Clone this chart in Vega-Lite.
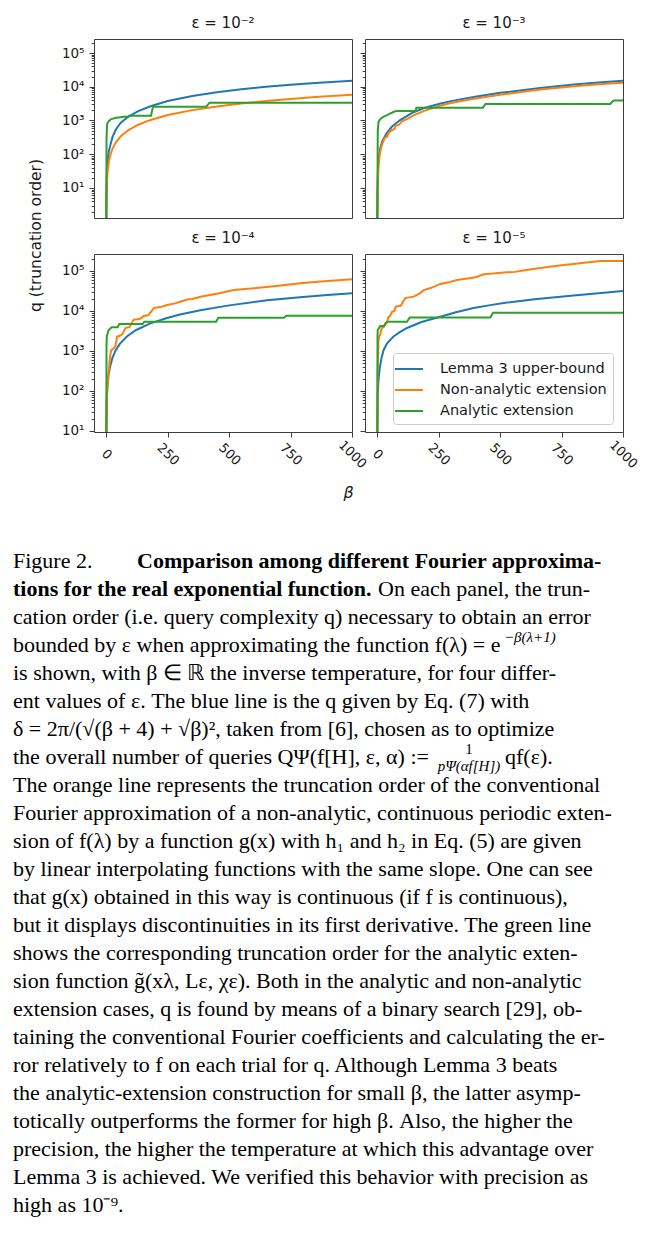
{
  "$schema": "https://vega.github.io/schema/vega-lite/v6.json",
  "background": "white",
  "padding": {"left": 13, "top": 15, "right": 4, "bottom": 4},
  "datasets": {
    "curves": [
      {"eps": "1e-2", "series": "Lemma 3 upper-bound", "beta": 0, "q": 1},
      {"eps": "1e-2", "series": "Lemma 3 upper-bound", "beta": 1, "q": 8},
      {"eps": "1e-2", "series": "Lemma 3 upper-bound", "beta": 3, "q": 35},
      {"eps": "1e-2", "series": "Lemma 3 upper-bound", "beta": 6, "q": 75},
      {"eps": "1e-2", "series": "Lemma 3 upper-bound", "beta": 10, "q": 120},
      {"eps": "1e-2", "series": "Lemma 3 upper-bound", "beta": 16, "q": 180},
      {"eps": "1e-2", "series": "Lemma 3 upper-bound", "beta": 25, "q": 320},
      {"eps": "1e-2", "series": "Lemma 3 upper-bound", "beta": 40, "q": 560},
      {"eps": "1e-2", "series": "Lemma 3 upper-bound", "beta": 60, "q": 880},
      {"eps": "1e-2", "series": "Lemma 3 upper-bound", "beta": 90, "q": 1300},
      {"eps": "1e-2", "series": "Lemma 3 upper-bound", "beta": 130, "q": 1900},
      {"eps": "1e-2", "series": "Lemma 3 upper-bound", "beta": 180, "q": 2650},
      {"eps": "1e-2", "series": "Lemma 3 upper-bound", "beta": 250, "q": 3800},
      {"eps": "1e-2", "series": "Lemma 3 upper-bound", "beta": 350, "q": 5300},
      {"eps": "1e-2", "series": "Lemma 3 upper-bound", "beta": 450, "q": 6900},
      {"eps": "1e-2", "series": "Lemma 3 upper-bound", "beta": 550, "q": 8400},
      {"eps": "1e-2", "series": "Lemma 3 upper-bound", "beta": 650, "q": 10000},
      {"eps": "1e-2", "series": "Lemma 3 upper-bound", "beta": 750, "q": 11500},
      {"eps": "1e-2", "series": "Lemma 3 upper-bound", "beta": 850, "q": 13000},
      {"eps": "1e-2", "series": "Lemma 3 upper-bound", "beta": 1000, "q": 15000},
      {"eps": "1e-2", "series": "Non-analytic extension", "beta": 0, "q": 1},
      {"eps": "1e-2", "series": "Non-analytic extension", "beta": 2, "q": 12},
      {"eps": "1e-2", "series": "Non-analytic extension", "beta": 5, "q": 30},
      {"eps": "1e-2", "series": "Non-analytic extension", "beta": 10, "q": 58},
      {"eps": "1e-2", "series": "Non-analytic extension", "beta": 16, "q": 93},
      {"eps": "1e-2", "series": "Non-analytic extension", "beta": 25, "q": 145},
      {"eps": "1e-2", "series": "Non-analytic extension", "beta": 40, "q": 230},
      {"eps": "1e-2", "series": "Non-analytic extension", "beta": 60, "q": 350},
      {"eps": "1e-2", "series": "Non-analytic extension", "beta": 90, "q": 520},
      {"eps": "1e-2", "series": "Non-analytic extension", "beta": 130, "q": 750},
      {"eps": "1e-2", "series": "Non-analytic extension", "beta": 180, "q": 1040},
      {"eps": "1e-2", "series": "Non-analytic extension", "beta": 250, "q": 1450},
      {"eps": "1e-2", "series": "Non-analytic extension", "beta": 350, "q": 2030},
      {"eps": "1e-2", "series": "Non-analytic extension", "beta": 450, "q": 2600},
      {"eps": "1e-2", "series": "Non-analytic extension", "beta": 550, "q": 3200},
      {"eps": "1e-2", "series": "Non-analytic extension", "beta": 650, "q": 3770},
      {"eps": "1e-2", "series": "Non-analytic extension", "beta": 750, "q": 4350},
      {"eps": "1e-2", "series": "Non-analytic extension", "beta": 850, "q": 4930},
      {"eps": "1e-2", "series": "Non-analytic extension", "beta": 1000, "q": 5800},
      {"eps": "1e-2", "series": "Analytic extension", "beta": 0, "q": 1},
      {"eps": "1e-2", "series": "Analytic extension", "beta": 1, "q": 300},
      {"eps": "1e-2", "series": "Analytic extension", "beta": 3, "q": 700},
      {"eps": "1e-2", "series": "Analytic extension", "beta": 5, "q": 850},
      {"eps": "1e-2", "series": "Analytic extension", "beta": 10, "q": 950},
      {"eps": "1e-2", "series": "Analytic extension", "beta": 20, "q": 1100},
      {"eps": "1e-2", "series": "Analytic extension", "beta": 40, "q": 1200},
      {"eps": "1e-2", "series": "Analytic extension", "beta": 57, "q": 1250},
      {"eps": "1e-2", "series": "Analytic extension", "beta": 70, "q": 1300},
      {"eps": "1e-2", "series": "Analytic extension", "beta": 88, "q": 1300},
      {"eps": "1e-2", "series": "Analytic extension", "beta": 92, "q": 1380},
      {"eps": "1e-2", "series": "Analytic extension", "beta": 182, "q": 1380},
      {"eps": "1e-2", "series": "Analytic extension", "beta": 190, "q": 2570},
      {"eps": "1e-2", "series": "Analytic extension", "beta": 407, "q": 2570},
      {"eps": "1e-2", "series": "Analytic extension", "beta": 420, "q": 3380},
      {"eps": "1e-2", "series": "Analytic extension", "beta": 1000, "q": 3380},
      {"eps": "1e-3", "series": "Lemma 3 upper-bound", "beta": 0, "q": 1},
      {"eps": "1e-3", "series": "Lemma 3 upper-bound", "beta": 1, "q": 8},
      {"eps": "1e-3", "series": "Lemma 3 upper-bound", "beta": 3, "q": 35},
      {"eps": "1e-3", "series": "Lemma 3 upper-bound", "beta": 6, "q": 75},
      {"eps": "1e-3", "series": "Lemma 3 upper-bound", "beta": 12, "q": 150},
      {"eps": "1e-3", "series": "Lemma 3 upper-bound", "beta": 20, "q": 240},
      {"eps": "1e-3", "series": "Lemma 3 upper-bound", "beta": 39, "q": 430},
      {"eps": "1e-3", "series": "Lemma 3 upper-bound", "beta": 60, "q": 660},
      {"eps": "1e-3", "series": "Lemma 3 upper-bound", "beta": 93, "q": 1030},
      {"eps": "1e-3", "series": "Lemma 3 upper-bound", "beta": 140, "q": 1650},
      {"eps": "1e-3", "series": "Lemma 3 upper-bound", "beta": 188, "q": 2300},
      {"eps": "1e-3", "series": "Lemma 3 upper-bound", "beta": 250, "q": 3100},
      {"eps": "1e-3", "series": "Lemma 3 upper-bound", "beta": 300, "q": 3750},
      {"eps": "1e-3", "series": "Lemma 3 upper-bound", "beta": 392, "q": 5000},
      {"eps": "1e-3", "series": "Lemma 3 upper-bound", "beta": 500, "q": 6600},
      {"eps": "1e-3", "series": "Lemma 3 upper-bound", "beta": 663, "q": 9200},
      {"eps": "1e-3", "series": "Lemma 3 upper-bound", "beta": 800, "q": 11600},
      {"eps": "1e-3", "series": "Lemma 3 upper-bound", "beta": 900, "q": 13300},
      {"eps": "1e-3", "series": "Lemma 3 upper-bound", "beta": 1000, "q": 15100},
      {"eps": "1e-3", "series": "Non-analytic extension", "beta": 0, "q": 1},
      {"eps": "1e-3", "series": "Non-analytic extension", "beta": 2, "q": 12},
      {"eps": "1e-3", "series": "Non-analytic extension", "beta": 5, "q": 45},
      {"eps": "1e-3", "series": "Non-analytic extension", "beta": 10, "q": 100},
      {"eps": "1e-3", "series": "Non-analytic extension", "beta": 15, "q": 150},
      {"eps": "1e-3", "series": "Non-analytic extension", "beta": 20, "q": 200},
      {"eps": "1e-3", "series": "Non-analytic extension", "beta": 30, "q": 300},
      {"eps": "1e-3", "series": "Non-analytic extension", "beta": 40, "q": 330},
      {"eps": "1e-3", "series": "Non-analytic extension", "beta": 45, "q": 420},
      {"eps": "1e-3", "series": "Non-analytic extension", "beta": 60, "q": 520},
      {"eps": "1e-3", "series": "Non-analytic extension", "beta": 70, "q": 560},
      {"eps": "1e-3", "series": "Non-analytic extension", "beta": 75, "q": 700},
      {"eps": "1e-3", "series": "Non-analytic extension", "beta": 90, "q": 760},
      {"eps": "1e-3", "series": "Non-analytic extension", "beta": 100, "q": 950},
      {"eps": "1e-3", "series": "Non-analytic extension", "beta": 120, "q": 1100},
      {"eps": "1e-3", "series": "Non-analytic extension", "beta": 150, "q": 1450},
      {"eps": "1e-3", "series": "Non-analytic extension", "beta": 188, "q": 1900},
      {"eps": "1e-3", "series": "Non-analytic extension", "beta": 250, "q": 2700},
      {"eps": "1e-3", "series": "Non-analytic extension", "beta": 300, "q": 3300},
      {"eps": "1e-3", "series": "Non-analytic extension", "beta": 392, "q": 4400},
      {"eps": "1e-3", "series": "Non-analytic extension", "beta": 500, "q": 5800},
      {"eps": "1e-3", "series": "Non-analytic extension", "beta": 663, "q": 8300},
      {"eps": "1e-3", "series": "Non-analytic extension", "beta": 800, "q": 10300},
      {"eps": "1e-3", "series": "Non-analytic extension", "beta": 900, "q": 11800},
      {"eps": "1e-3", "series": "Non-analytic extension", "beta": 1000, "q": 13200},
      {"eps": "1e-3", "series": "Analytic extension", "beta": 0, "q": 1},
      {"eps": "1e-3", "series": "Analytic extension", "beta": 2, "q": 500},
      {"eps": "1e-3", "series": "Analytic extension", "beta": 5, "q": 900},
      {"eps": "1e-3", "series": "Analytic extension", "beta": 9.5, "q": 1030},
      {"eps": "1e-3", "series": "Analytic extension", "beta": 15, "q": 1150},
      {"eps": "1e-3", "series": "Analytic extension", "beta": 26, "q": 1300},
      {"eps": "1e-3", "series": "Analytic extension", "beta": 40, "q": 1450},
      {"eps": "1e-3", "series": "Analytic extension", "beta": 53, "q": 1620},
      {"eps": "1e-3", "series": "Analytic extension", "beta": 60, "q": 1700},
      {"eps": "1e-3", "series": "Analytic extension", "beta": 70, "q": 1850},
      {"eps": "1e-3", "series": "Analytic extension", "beta": 80, "q": 1900},
      {"eps": "1e-3", "series": "Analytic extension", "beta": 155, "q": 1900},
      {"eps": "1e-3", "series": "Analytic extension", "beta": 159, "q": 2400},
      {"eps": "1e-3", "series": "Analytic extension", "beta": 430, "q": 2400},
      {"eps": "1e-3", "series": "Analytic extension", "beta": 440, "q": 3100},
      {"eps": "1e-3", "series": "Analytic extension", "beta": 948, "q": 3100},
      {"eps": "1e-3", "series": "Analytic extension", "beta": 962, "q": 3900},
      {"eps": "1e-3", "series": "Analytic extension", "beta": 1000, "q": 3900},
      {"eps": "1e-4", "series": "Lemma 3 upper-bound", "beta": 0, "q": 5},
      {"eps": "1e-4", "series": "Lemma 3 upper-bound", "beta": 2, "q": 55},
      {"eps": "1e-4", "series": "Lemma 3 upper-bound", "beta": 5, "q": 140},
      {"eps": "1e-4", "series": "Lemma 3 upper-bound", "beta": 10, "q": 270},
      {"eps": "1e-4", "series": "Lemma 3 upper-bound", "beta": 16, "q": 420},
      {"eps": "1e-4", "series": "Lemma 3 upper-bound", "beta": 25, "q": 670},
      {"eps": "1e-4", "series": "Lemma 3 upper-bound", "beta": 37, "q": 1000},
      {"eps": "1e-4", "series": "Lemma 3 upper-bound", "beta": 55, "q": 1500},
      {"eps": "1e-4", "series": "Lemma 3 upper-bound", "beta": 84, "q": 2300},
      {"eps": "1e-4", "series": "Lemma 3 upper-bound", "beta": 120, "q": 3300},
      {"eps": "1e-4", "series": "Lemma 3 upper-bound", "beta": 179, "q": 4900},
      {"eps": "1e-4", "series": "Lemma 3 upper-bound", "beta": 247, "q": 6700},
      {"eps": "1e-4", "series": "Lemma 3 upper-bound", "beta": 300, "q": 8200},
      {"eps": "1e-4", "series": "Lemma 3 upper-bound", "beta": 383, "q": 10400},
      {"eps": "1e-4", "series": "Lemma 3 upper-bound", "beta": 500, "q": 13800},
      {"eps": "1e-4", "series": "Lemma 3 upper-bound", "beta": 654, "q": 18500},
      {"eps": "1e-4", "series": "Lemma 3 upper-bound", "beta": 800, "q": 22500},
      {"eps": "1e-4", "series": "Lemma 3 upper-bound", "beta": 900, "q": 25000},
      {"eps": "1e-4", "series": "Lemma 3 upper-bound", "beta": 1000, "q": 27700},
      {"eps": "1e-4", "series": "Non-analytic extension", "beta": 0, "q": 5},
      {"eps": "1e-4", "series": "Non-analytic extension", "beta": 3, "q": 100},
      {"eps": "1e-4", "series": "Non-analytic extension", "beta": 9, "q": 275},
      {"eps": "1e-4", "series": "Non-analytic extension", "beta": 15, "q": 700},
      {"eps": "1e-4", "series": "Non-analytic extension", "beta": 20, "q": 1050},
      {"eps": "1e-4", "series": "Non-analytic extension", "beta": 30, "q": 1150},
      {"eps": "1e-4", "series": "Non-analytic extension", "beta": 37, "q": 1300},
      {"eps": "1e-4", "series": "Non-analytic extension", "beta": 44, "q": 2300},
      {"eps": "1e-4", "series": "Non-analytic extension", "beta": 55, "q": 2400},
      {"eps": "1e-4", "series": "Non-analytic extension", "beta": 65, "q": 2600},
      {"eps": "1e-4", "series": "Non-analytic extension", "beta": 78, "q": 3750},
      {"eps": "1e-4", "series": "Non-analytic extension", "beta": 95, "q": 4000},
      {"eps": "1e-4", "series": "Non-analytic extension", "beta": 111, "q": 6000},
      {"eps": "1e-4", "series": "Non-analytic extension", "beta": 125, "q": 6200},
      {"eps": "1e-4", "series": "Non-analytic extension", "beta": 140, "q": 6500},
      {"eps": "1e-4", "series": "Non-analytic extension", "beta": 152, "q": 7500},
      {"eps": "1e-4", "series": "Non-analytic extension", "beta": 170, "q": 7800},
      {"eps": "1e-4", "series": "Non-analytic extension", "beta": 185, "q": 10000},
      {"eps": "1e-4", "series": "Non-analytic extension", "beta": 193, "q": 11800},
      {"eps": "1e-4", "series": "Non-analytic extension", "beta": 220, "q": 12500},
      {"eps": "1e-4", "series": "Non-analytic extension", "beta": 247, "q": 14100},
      {"eps": "1e-4", "series": "Non-analytic extension", "beta": 280, "q": 15500},
      {"eps": "1e-4", "series": "Non-analytic extension", "beta": 300, "q": 17000},
      {"eps": "1e-4", "series": "Non-analytic extension", "beta": 329, "q": 19400},
      {"eps": "1e-4", "series": "Non-analytic extension", "beta": 350, "q": 20000},
      {"eps": "1e-4", "series": "Non-analytic extension", "beta": 383, "q": 22700},
      {"eps": "1e-4", "series": "Non-analytic extension", "beta": 450, "q": 27000},
      {"eps": "1e-4", "series": "Non-analytic extension", "beta": 519, "q": 33400},
      {"eps": "1e-4", "series": "Non-analytic extension", "beta": 600, "q": 37000},
      {"eps": "1e-4", "series": "Non-analytic extension", "beta": 700, "q": 43000},
      {"eps": "1e-4", "series": "Non-analytic extension", "beta": 800, "q": 50000},
      {"eps": "1e-4", "series": "Non-analytic extension", "beta": 900, "q": 56000},
      {"eps": "1e-4", "series": "Non-analytic extension", "beta": 1000, "q": 62000},
      {"eps": "1e-4", "series": "Analytic extension", "beta": 0, "q": 5},
      {"eps": "1e-4", "series": "Analytic extension", "beta": 1, "q": 1500},
      {"eps": "1e-4", "series": "Analytic extension", "beta": 2, "q": 2300},
      {"eps": "1e-4", "series": "Analytic extension", "beta": 9, "q": 3300},
      {"eps": "1e-4", "series": "Analytic extension", "beta": 22, "q": 3900},
      {"eps": "1e-4", "series": "Analytic extension", "beta": 46, "q": 3900},
      {"eps": "1e-4", "series": "Analytic extension", "beta": 53, "q": 4700},
      {"eps": "1e-4", "series": "Analytic extension", "beta": 148, "q": 4700},
      {"eps": "1e-4", "series": "Analytic extension", "beta": 155, "q": 5400},
      {"eps": "1e-4", "series": "Analytic extension", "beta": 447, "q": 5400},
      {"eps": "1e-4", "series": "Analytic extension", "beta": 456, "q": 6800},
      {"eps": "1e-4", "series": "Analytic extension", "beta": 723, "q": 6800},
      {"eps": "1e-4", "series": "Analytic extension", "beta": 733, "q": 7600},
      {"eps": "1e-4", "series": "Analytic extension", "beta": 1000, "q": 7600},
      {"eps": "1e-5", "series": "Lemma 3 upper-bound", "beta": 0, "q": 5},
      {"eps": "1e-5", "series": "Lemma 3 upper-bound", "beta": 2, "q": 80},
      {"eps": "1e-5", "series": "Lemma 3 upper-bound", "beta": 5, "q": 190},
      {"eps": "1e-5", "series": "Lemma 3 upper-bound", "beta": 10, "q": 380},
      {"eps": "1e-5", "series": "Lemma 3 upper-bound", "beta": 18, "q": 700},
      {"eps": "1e-5", "series": "Lemma 3 upper-bound", "beta": 26, "q": 1060},
      {"eps": "1e-5", "series": "Lemma 3 upper-bound", "beta": 40, "q": 1550},
      {"eps": "1e-5", "series": "Lemma 3 upper-bound", "beta": 66, "q": 2300},
      {"eps": "1e-5", "series": "Lemma 3 upper-bound", "beta": 90, "q": 2900},
      {"eps": "1e-5", "series": "Lemma 3 upper-bound", "beta": 121, "q": 3750},
      {"eps": "1e-5", "series": "Lemma 3 upper-bound", "beta": 180, "q": 5300},
      {"eps": "1e-5", "series": "Lemma 3 upper-bound", "beta": 256, "q": 7200},
      {"eps": "1e-5", "series": "Lemma 3 upper-bound", "beta": 320, "q": 9300},
      {"eps": "1e-5", "series": "Lemma 3 upper-bound", "beta": 392, "q": 11800},
      {"eps": "1e-5", "series": "Lemma 3 upper-bound", "beta": 460, "q": 14000},
      {"eps": "1e-5", "series": "Lemma 3 upper-bound", "beta": 528, "q": 16200},
      {"eps": "1e-5", "series": "Lemma 3 upper-bound", "beta": 650, "q": 20000},
      {"eps": "1e-5", "series": "Lemma 3 upper-bound", "beta": 799, "q": 24500},
      {"eps": "1e-5", "series": "Lemma 3 upper-bound", "beta": 900, "q": 27800},
      {"eps": "1e-5", "series": "Lemma 3 upper-bound", "beta": 1000, "q": 31600},
      {"eps": "1e-5", "series": "Non-analytic extension", "beta": 0, "q": 5},
      {"eps": "1e-5", "series": "Non-analytic extension", "beta": 2, "q": 400},
      {"eps": "1e-5", "series": "Non-analytic extension", "beta": 5, "q": 1900},
      {"eps": "1e-5", "series": "Non-analytic extension", "beta": 8, "q": 2300},
      {"eps": "1e-5", "series": "Non-analytic extension", "beta": 12, "q": 2600},
      {"eps": "1e-5", "series": "Non-analytic extension", "beta": 18, "q": 3750},
      {"eps": "1e-5", "series": "Non-analytic extension", "beta": 26, "q": 3900},
      {"eps": "1e-5", "series": "Non-analytic extension", "beta": 32, "q": 4900},
      {"eps": "1e-5", "series": "Non-analytic extension", "beta": 39, "q": 5100},
      {"eps": "1e-5", "series": "Non-analytic extension", "beta": 45, "q": 7000},
      {"eps": "1e-5", "series": "Non-analytic extension", "beta": 52, "q": 7500},
      {"eps": "1e-5", "series": "Non-analytic extension", "beta": 60, "q": 9500},
      {"eps": "1e-5", "series": "Non-analytic extension", "beta": 70, "q": 10000},
      {"eps": "1e-5", "series": "Non-analytic extension", "beta": 75, "q": 12900},
      {"eps": "1e-5", "series": "Non-analytic extension", "beta": 95, "q": 13500},
      {"eps": "1e-5", "series": "Non-analytic extension", "beta": 105, "q": 17000},
      {"eps": "1e-5", "series": "Non-analytic extension", "beta": 114, "q": 21000},
      {"eps": "1e-5", "series": "Non-analytic extension", "beta": 148, "q": 22800},
      {"eps": "1e-5", "series": "Non-analytic extension", "beta": 160, "q": 25000},
      {"eps": "1e-5", "series": "Non-analytic extension", "beta": 175, "q": 28000},
      {"eps": "1e-5", "series": "Non-analytic extension", "beta": 189, "q": 33400},
      {"eps": "1e-5", "series": "Non-analytic extension", "beta": 220, "q": 38000},
      {"eps": "1e-5", "series": "Non-analytic extension", "beta": 256, "q": 47500},
      {"eps": "1e-5", "series": "Non-analytic extension", "beta": 290, "q": 52000},
      {"eps": "1e-5", "series": "Non-analytic extension", "beta": 324, "q": 59700},
      {"eps": "1e-5", "series": "Non-analytic extension", "beta": 360, "q": 64000},
      {"eps": "1e-5", "series": "Non-analytic extension", "beta": 400, "q": 70000},
      {"eps": "1e-5", "series": "Non-analytic extension", "beta": 433, "q": 83000},
      {"eps": "1e-5", "series": "Non-analytic extension", "beta": 470, "q": 86000},
      {"eps": "1e-5", "series": "Non-analytic extension", "beta": 528, "q": 93000},
      {"eps": "1e-5", "series": "Non-analytic extension", "beta": 560, "q": 95000},
      {"eps": "1e-5", "series": "Non-analytic extension", "beta": 600, "q": 105000},
      {"eps": "1e-5", "series": "Non-analytic extension", "beta": 663, "q": 118000},
      {"eps": "1e-5", "series": "Non-analytic extension", "beta": 700, "q": 128000},
      {"eps": "1e-5", "series": "Non-analytic extension", "beta": 750, "q": 140000},
      {"eps": "1e-5", "series": "Non-analytic extension", "beta": 799, "q": 150000},
      {"eps": "1e-5", "series": "Non-analytic extension", "beta": 850, "q": 162000},
      {"eps": "1e-5", "series": "Non-analytic extension", "beta": 880, "q": 170000},
      {"eps": "1e-5", "series": "Non-analytic extension", "beta": 908, "q": 178000},
      {"eps": "1e-5", "series": "Non-analytic extension", "beta": 1000, "q": 178000},
      {"eps": "1e-5", "series": "Analytic extension", "beta": 0, "q": 5},
      {"eps": "1e-5", "series": "Analytic extension", "beta": 1, "q": 2500},
      {"eps": "1e-5", "series": "Analytic extension", "beta": 2, "q": 3350},
      {"eps": "1e-5", "series": "Analytic extension", "beta": 12, "q": 4200},
      {"eps": "1e-5", "series": "Analytic extension", "beta": 28, "q": 4200},
      {"eps": "1e-5", "series": "Analytic extension", "beta": 33, "q": 4700},
      {"eps": "1e-5", "series": "Analytic extension", "beta": 40, "q": 5400},
      {"eps": "1e-5", "series": "Analytic extension", "beta": 121, "q": 5400},
      {"eps": "1e-5", "series": "Analytic extension", "beta": 132, "q": 6900},
      {"eps": "1e-5", "series": "Analytic extension", "beta": 460, "q": 6900},
      {"eps": "1e-5", "series": "Analytic extension", "beta": 471, "q": 9000},
      {"eps": "1e-5", "series": "Analytic extension", "beta": 1000, "q": 9000}
    ],
    "caption": [
      {"line": 1, "part": "main", "text": "Figure 2."},
      {"line": 1, "part": "lead", "text": "Comparison among different Fourier approxima-"},
      {"line": 2, "part": "bold", "text": "tions for the real exponential function."},
      {"line": 2, "part": "tail", "text": "On each panel, the trun-"},
      {"line": 3, "part": "main", "text": "cation order (i.e.  query complexity q) necessary to obtain an error"},
      {"line": 4, "part": "main", "text": "bounded by ε when approximating the function f(λ) = e"},
      {"line": 4, "part": "sup", "text": "−β(λ+1)"},
      {"line": 5, "part": "main", "text": "is shown, with β ∈ ℝ the inverse temperature, for four differ-"},
      {"line": 6, "part": "main", "text": "ent values of ε.  The blue line is the q given by Eq.  (7) with"},
      {"line": 7, "part": "main", "text": "δ = 2π/(√(β + 4) + √β)², taken from [6], chosen as to optimize"},
      {"line": 8, "part": "main", "text": "the overall number of queries QΨ(f[H], ε, α) :="},
      {"line": 8, "part": "num", "text": "1"},
      {"line": 8, "part": "den", "text": "pΨ(αf[H])"},
      {"line": 8, "part": "after", "text": "qf(ε)."},
      {"line": 9, "part": "main", "text": "The orange line represents the truncation order of the conventional"},
      {"line": 10, "part": "main", "text": "Fourier approximation of a non-analytic, continuous periodic exten-"},
      {"line": 11, "part": "main", "text": "sion of f(λ) by a function g(x) with h₁ and h₂ in Eq. (5) are given"},
      {"line": 12, "part": "main", "text": "by linear interpolating functions with the same slope. One can see"},
      {"line": 13, "part": "main", "text": "that g(x) obtained in this way is continuous (if f is continuous),"},
      {"line": 14, "part": "main", "text": "but it displays discontinuities in its first derivative. The green line"},
      {"line": 15, "part": "main", "text": "shows the corresponding truncation order for the analytic exten-"},
      {"line": 16, "part": "main", "text": "sion function g̃(xλ, Lε, χε). Both in the analytic and non-analytic"},
      {"line": 17, "part": "main", "text": "extension cases, q is found by means of a binary search [29], ob-"},
      {"line": 18, "part": "main", "text": "taining the conventional Fourier coefficients and calculating the er-"},
      {"line": 19, "part": "main", "text": "ror relatively to f on each trial for q.  Although Lemma 3 beats"},
      {"line": 20, "part": "main", "text": "the analytic-extension construction for small β, the latter asymp-"},
      {"line": 21, "part": "main", "text": "totically outperforms the former for high β.  Also, the higher the"},
      {"line": 22, "part": "main", "text": "precision, the higher the temperature at which this advantage over"},
      {"line": 23, "part": "main", "text": "Lemma 3 is achieved.  We verified this behavior with precision as"},
      {"line": 24, "part": "main", "text": "high as 10⁻⁹."}
    ]
  },
  "columns": 2,
  "spacing": {"row": 36, "column": 13},
  "bounds": "flush",
  "concat": [
    {
      "width": 258,
      "height": 179,
      "title": {"text": "ε = 10⁻²"},
      "data": {"name": "curves"},
      "transform": [{"filter": "datum.eps == '1e-2'"}],
      "layer": [
        {
          "mark": {"type": "line", "strokeWidth": 2, "clip": true},
          "encoding": {
            "x": {"field": "beta", "type": "quantitative", "scale": {"domain": [-50, 1000], "nice": false, "zero": false}, "axis": null},
            "y": {
              "field": "q", "type": "quantitative",
              "scale": {"type": "log", "domain": [1.29, 260000], "nice": false},
              "axis": {
                "values": [10, 100, 1000, 10000, 100000],
                "labelExpr": "'10' + ['⁰','¹','²','³','⁴','⁵','⁶'][round(log(datum.value)/LN10)]",
                "tickSize": 5, "labelPadding": 5, "domain": false,
                "title": "q (truncation order)", "titleX": -59, "titleY": 196,
                "titleAlign": "center", "titleBaseline": "middle", "titleAngle": -90,
                "titleFontSize": 15.5, "titleFontWeight": "normal"
              }
            },
            "color": {
              "field": "series", "type": "nominal",
              "scale": {"domain": ["Lemma 3 upper-bound", "Non-analytic extension", "Analytic extension"], "range": ["#1f77b4", "#ff7f0e", "#2ca02c"]},
              "legend": {"orient": "none", "legendX": 299, "legendY": 314}
            }
          }
        },
        {
          "mark": {"type": "line", "opacity": 0, "clip": true},
          "encoding": {
            "x": {"field": "beta", "type": "quantitative", "axis": null},
            "y": {
              "field": "q", "type": "quantitative",
              "axis": {"orient": "left", "values": [2, 3, 4, 5, 6, 7, 8, 9, 20, 30, 40, 50, 60, 70, 80, 90, 200, 300, 400, 500, 600, 700, 800, 900, 2000, 3000, 4000, 5000, 6000, 7000, 8000, 9000, 20000, 30000, 40000, 50000, 60000, 70000, 80000, 90000, 200000], "labels": false, "tickSize": 2.8, "domain": false, "title": null}
            },
            "detail": {"field": "series"}
          }
        }
      ],
      "resolve": {"axis": {"y": "independent"}}
    },
    {
      "width": 258,
      "height": 179,
      "title": {"text": "ε = 10⁻³"},
      "data": {"name": "curves"},
      "transform": [{"filter": "datum.eps == '1e-3'"}],
      "layer": [
        {
          "mark": {"type": "line", "strokeWidth": 2, "clip": true},
          "encoding": {
            "x": {"field": "beta", "type": "quantitative", "scale": {"domain": [-50, 1000], "nice": false, "zero": false}, "axis": null},
            "y": {
              "field": "q", "type": "quantitative",
              "scale": {"type": "log", "domain": [1.29, 260000], "nice": false},
              "axis": {"values": [10, 100, 1000, 10000, 100000], "labels": false, "tickSize": 5, "domain": false, "title": null}
            },
            "color": {
              "field": "series", "type": "nominal",
              "scale": {"domain": ["Lemma 3 upper-bound", "Non-analytic extension", "Analytic extension"], "range": ["#1f77b4", "#ff7f0e", "#2ca02c"]}
            }
          }
        },
        {
          "mark": {"type": "line", "opacity": 0, "clip": true},
          "encoding": {
            "x": {"field": "beta", "type": "quantitative", "axis": null},
            "y": {
              "field": "q", "type": "quantitative",
              "axis": {"orient": "left", "values": [2, 3, 4, 5, 6, 7, 8, 9, 20, 30, 40, 50, 60, 70, 80, 90, 200, 300, 400, 500, 600, 700, 800, 900, 2000, 3000, 4000, 5000, 6000, 7000, 8000, 9000, 20000, 30000, 40000, 50000, 60000, 70000, 80000, 90000, 200000], "labels": false, "tickSize": 2.8, "domain": false, "title": null}
            },
            "detail": {"field": "series"}
          }
        }
      ],
      "resolve": {"axis": {"y": "independent"}}
    },
    {
      "width": 258,
      "height": 178,
      "title": {"text": "ε = 10⁻⁴"},
      "data": {"name": "curves"},
      "transform": [{"filter": "datum.eps == '1e-4'"}],
      "layer": [
        {
          "mark": {"type": "line", "strokeWidth": 2, "clip": true},
          "encoding": {
            "x": {
              "field": "beta", "type": "quantitative", "scale": {"domain": [-50, 1000], "nice": false, "zero": false},
              "axis": {"values": [0, 250, 500, 750, 1000], "format": "d", "labelAngle": 45, "labelAlign": "center", "labelBaseline": "middle", "labelPadding": 17, "labelFontSize": 13, "tickSize": 5, "domain": false, "title": "β", "titleX": 254, "titleY": 60, "titleBaseline": "middle", "titleFontSize": 16, "titleFontStyle": "italic", "titleFontWeight": "normal"}
            },
            "y": {
              "field": "q", "type": "quantitative",
              "scale": {"type": "log", "domain": [9.4, 266000], "nice": false},
              "axis": {"values": [10, 100, 1000, 10000, 100000], "labelExpr": "'10' + ['⁰','¹','²','³','⁴','⁵','⁶'][round(log(datum.value)/LN10)]", "tickSize": 5, "labelPadding": 5, "domain": false, "title": null}
            },
            "color": {
              "field": "series", "type": "nominal",
              "scale": {"domain": ["Lemma 3 upper-bound", "Non-analytic extension", "Analytic extension"], "range": ["#1f77b4", "#ff7f0e", "#2ca02c"]}
            }
          }
        },
        {
          "mark": {"type": "line", "opacity": 0, "clip": true},
          "encoding": {
            "x": {"field": "beta", "type": "quantitative"},
            "y": {
              "field": "q", "type": "quantitative",
              "axis": {"orient": "left", "values": [20, 30, 40, 50, 60, 70, 80, 90, 200, 300, 400, 500, 600, 700, 800, 900, 2000, 3000, 4000, 5000, 6000, 7000, 8000, 9000, 20000, 30000, 40000, 50000, 60000, 70000, 80000, 90000, 200000], "labels": false, "tickSize": 2.8, "domain": false, "title": null}
            },
            "detail": {"field": "series"}
          }
        }
      ],
      "resolve": {"axis": {"y": "independent"}}
    },
    {
      "width": 258,
      "height": 178,
      "title": {"text": "ε = 10⁻⁵"},
      "data": {"name": "curves"},
      "transform": [{"filter": "datum.eps == '1e-5'"}],
      "layer": [
        {
          "mark": {"type": "line", "strokeWidth": 2, "clip": true},
          "encoding": {
            "x": {
              "field": "beta", "type": "quantitative", "scale": {"domain": [-50, 1000], "nice": false, "zero": false},
              "axis": {"values": [0, 250, 500, 750, 1000], "format": "d", "labelAngle": 45, "labelAlign": "center", "labelBaseline": "middle", "labelPadding": 17, "labelFontSize": 13, "tickSize": 5, "domain": false, "title": null}
            },
            "y": {
              "field": "q", "type": "quantitative",
              "scale": {"type": "log", "domain": [9.4, 266000], "nice": false},
              "axis": {"values": [10, 100, 1000, 10000, 100000], "labels": false, "tickSize": 5, "domain": false, "title": null}
            },
            "color": {
              "field": "series", "type": "nominal",
              "scale": {"domain": ["Lemma 3 upper-bound", "Non-analytic extension", "Analytic extension"], "range": ["#1f77b4", "#ff7f0e", "#2ca02c"]}
            }
          }
        },
        {
          "mark": {"type": "line", "opacity": 0, "clip": true},
          "encoding": {
            "x": {"field": "beta", "type": "quantitative"},
            "y": {
              "field": "q", "type": "quantitative",
              "axis": {"orient": "left", "values": [20, 30, 40, 50, 60, 70, 80, 90, 200, 300, 400, 500, 600, 700, 800, 900, 2000, 3000, 4000, 5000, 6000, 7000, 8000, 9000, 20000, 30000, 40000, 50000, 60000, 70000, 80000, 90000, 200000], "labels": false, "tickSize": 2.8, "domain": false, "title": null}
            },
            "detail": {"field": "series"}
          }
        }
      ],
      "resolve": {"axis": {"y": "independent"}}
    },
    {
      "width": 258,
      "height": 760,
      "view": {"stroke": null},
      "data": {"name": "caption"},
      "encoding": {
        "x": {"datum": 0, "type": "quantitative", "scale": {"domain": [0, 1], "range": [-81, 549]}, "axis": null},
        "y": {"field": "line", "type": "quantitative", "scale": {"domain": [0, 25], "range": [72, 772]}, "axis": null}
      },
      "layer": [
        {"transform": [{"filter": "datum.part == 'main'"}], "mark": {"type": "text", "align": "left", "baseline": "alphabetic", "font": "Liberation Serif", "fontSize": 22, "color": "black"}, "encoding": {"text": {"field": "text"}}},
        {"transform": [{"filter": "datum.part == 'lead'"}], "mark": {"type": "text", "align": "left", "baseline": "alphabetic", "font": "Liberation Serif", "fontSize": 22, "fontWeight": "bold", "color": "black", "dx": 124}, "encoding": {"text": {"field": "text"}}},
        {"transform": [{"filter": "datum.part == 'bold'"}], "mark": {"type": "text", "align": "left", "baseline": "alphabetic", "font": "Liberation Serif", "fontSize": 22, "fontWeight": "bold", "color": "black"}, "encoding": {"text": {"field": "text"}}},
        {"transform": [{"filter": "datum.part == 'tail'"}], "mark": {"type": "text", "align": "left", "baseline": "alphabetic", "font": "Liberation Serif", "fontSize": 22, "color": "black", "dx": 365}, "encoding": {"text": {"field": "text"}}},
        {"transform": [{"filter": "datum.part == 'sup'"}], "mark": {"type": "text", "align": "left", "baseline": "alphabetic", "font": "Liberation Serif", "fontSize": 15, "fontStyle": "italic", "color": "black", "dx": 491, "dy": -10}, "encoding": {"text": {"field": "text"}}},
        {"transform": [{"filter": "datum.part == 'num'"}], "mark": {"type": "text", "align": "center", "baseline": "alphabetic", "font": "Liberation Serif", "fontSize": 15, "color": "black", "dx": 456, "dy": -10}, "encoding": {"text": {"field": "text"}}},
        {"transform": [{"filter": "datum.part == 'den'"}], "mark": {"type": "text", "align": "center", "baseline": "alphabetic", "font": "Liberation Serif", "fontSize": 15, "fontStyle": "italic", "color": "black", "dx": 456, "dy": 7}, "encoding": {"text": {"field": "text"}}},
        {"transform": [{"filter": "datum.part == 'after'"}], "mark": {"type": "text", "align": "left", "baseline": "alphabetic", "font": "Liberation Serif", "fontSize": 22, "color": "black", "dx": 492}, "encoding": {"text": {"field": "text"}}}
      ]
    }
  ],
  "config": {
    "font": "DejaVu Sans",
    "view": {"stroke": "#3d3d3d", "strokeWidth": 1},
    "axis": {"grid": false, "labelFont": "DejaVu Sans", "labelFontSize": 13.5, "labelColor": "#1a1a1a", "tickColor": "#3d3d3d", "tickWidth": 1, "titleFont": "DejaVu Sans", "titleColor": "#1a1a1a"},
    "title": {"font": "DejaVu Sans", "fontSize": 15, "fontWeight": "normal", "color": "#1a1a1a", "offset": 8, "frame": "group", "anchor": "middle"},
    "legend": {
      "title": null,
      "symbolType": "M-1.56,0H1.56",
      "symbolSize": 324,
      "symbolStrokeWidth": 2,
      "labelFont": "DejaVu Sans",
      "labelFontSize": 14.5,
      "labelLimit": 260,
      "labelColor": "#1a1a1a",
      "labelOffset": 21,
      "rowPadding": 4,
      "padding": 6,
      "fillColor": "white",
      "strokeColor": "#cccccc",
      "cornerRadius": 3
    }
  }
}
